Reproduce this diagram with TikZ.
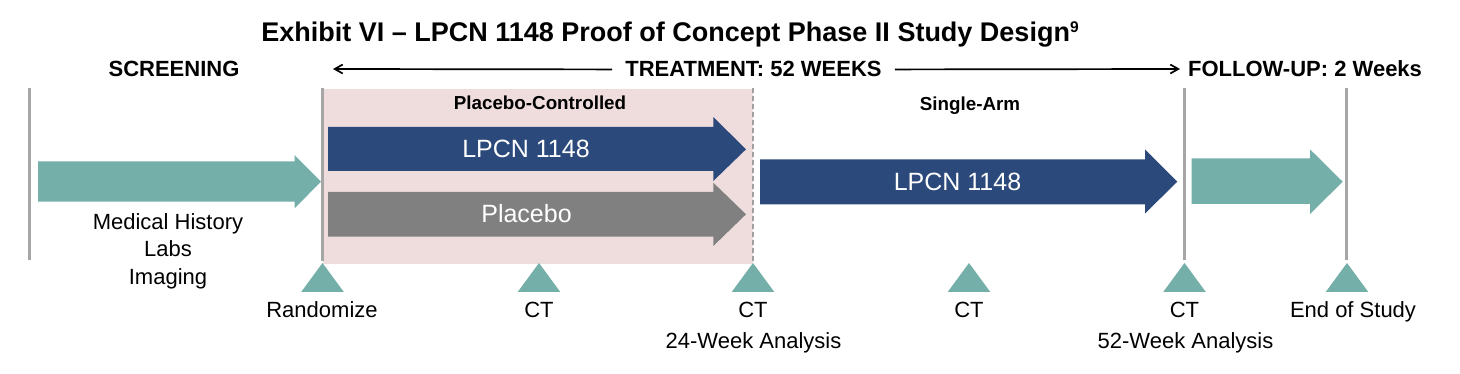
\documentclass[tikz,border=0pt]{standalone}
\usepackage{fontspec}
\setmainfont{Liberation Sans}
\usetikzlibrary{arrows.meta}
\definecolor{tealA}{RGB}{116,175,169}
\definecolor{navyA}{RGB}{43,73,122}
\definecolor{greyA}{RGB}{128,128,128}
\definecolor{pinkA}{RGB}{239,221,221}
\definecolor{lineA}{RGB}{166,166,166}
\definecolor{dashA}{RGB}{160,160,160}
\tikzset{
  txt/.style={inner sep=0pt, anchor=base, text=black},
  lab/.style={txt, font=\fontsize{22}{26}\selectfont},
  head/.style={txt, font=\fontsize{22}{26}\selectfont\bfseries},
  subhead/.style={txt, font=\fontsize{18.8}{22}\selectfont\bfseries},
  armtxt/.style={txt, text=white, font=\fontsize{25}{30}\selectfont},
  vline/.style={draw=lineA, line width=3pt},
  dline/.style={draw=dashA, line width=2.5pt, dash pattern=on 5pt off 3pt},
  toparrow/.style={draw=black, line width=1.7pt, -{Straight Barb[length=8pt,width=9pt]}},
  tri/.style={fill=tealA},
}
\begin{document}
\begin{tikzpicture}[x=1pt,y=-1pt]
\useasboundingbox (0,0) rectangle (1460,374);
\fill[white] (0,0) rectangle (1460,374);

% placebo-controlled background
\fill[pinkA] (323,89) rectangle (753,264);

% vertical lines
\draw[vline] (29,88) -- (29,260);
\draw[vline] (322.5,88) -- (322.5,261);
\draw[dline] (753,88) -- (753,263);
\draw[vline] (1184,88) -- (1184,260);
\draw[vline] (1346.5,88) -- (1346.5,260);

% block arrows
\fill[tealA] (38,161.5) -- (294.5,161.5) -- (294.5,155) -- (321,181.7) -- (294.5,208.3) -- (294.5,201.7) -- (38,201.7) -- cycle;
\fill[navyA] (328,127) -- (713.3,127) -- (713.3,117) -- (746,149.3) -- (713.3,181) -- (713.3,171) -- (328,171) -- cycle;
\fill[greyA] (328,192) -- (713.3,192) -- (713.3,182.7) -- (746,214.3) -- (713.3,246) -- (713.3,236.7) -- (328,236.7) -- cycle;
\fill[navyA] (760,159.3) -- (1145,159.3) -- (1145,149.3) -- (1177.3,181.7) -- (1145,213.5) -- (1145,204.3) -- (760,204.3) -- cycle;
\fill[tealA] (1191.7,158.5) -- (1310,158.5) -- (1310,149.3) -- (1342.7,181.7) -- (1310,214) -- (1310,204) -- (1191.7,204) -- cycle;

% triangles
\foreach \x in {322.5,539,753,969,1184.5,1347}{
  \fill[tri] (\x-21.3,292) -- (\x,263) -- (\x+21.3,292) -- cycle;
}

% title
\node[txt, font=\fontsize{27}{32}\selectfont\bfseries] (title) at (670,42)
  {Exhibit VI – LPCN 1148 Proof of Concept Phase II Study Design\raisebox{9pt}{\fontsize{15.5}{18}\selectfont 9}};

% headers
\node[head] (screen) at (174,77) {SCREENING};
\node[head, inner xsep=13pt] (treat) at (753.5,77) {TREATMENT: 52 WEEKS};
\node[head] (follow) at (1305,77) {FOLLOW-UP: 2 Weeks};
\coordinate (tl) at (333,69);
\coordinate (tr) at (1180,69);
\draw[toparrow] (treat.west) -- (tl);
\draw[toparrow] (treat.east) -- (tr);

\node[subhead] (pc) at (540,110) {Placebo-Controlled};
\node[subhead] (sa) at (970,110.5) {Single-Arm};

% arm labels
\node[armtxt] (arm1) at (526,157.3) {LPCN 1148};
\node[armtxt] (arm2) at (526.5,222.7) {Placebo};
\node[armtxt] (arm3) at (957.5,190.7) {LPCN 1148};

% screening labels
\node[lab] (mh1) at (168,230) {Medical History};
\node[lab] (mh2) at (168,257) {Labs};
\node[lab] (mh3) at (168,284) {Imaging};

% milestone labels
\node[lab] (l1) at (322,317) {Randomize};
\node[lab] (l2) at (539,317) {CT};
\node[lab] (l3) at (753,317) {CT};
\node[lab] (l3b) at (753.5,348) {24-Week Analysis};
\node[lab] (l4) at (969,317) {CT};
\node[lab] (l5) at (1184.5,317) {CT};
\node[lab] (l5b) at (1185.5,348) {52-Week Analysis};
\node[lab] (l6) at (1353,317) {End of Study};
\end{tikzpicture}
\end{document}
